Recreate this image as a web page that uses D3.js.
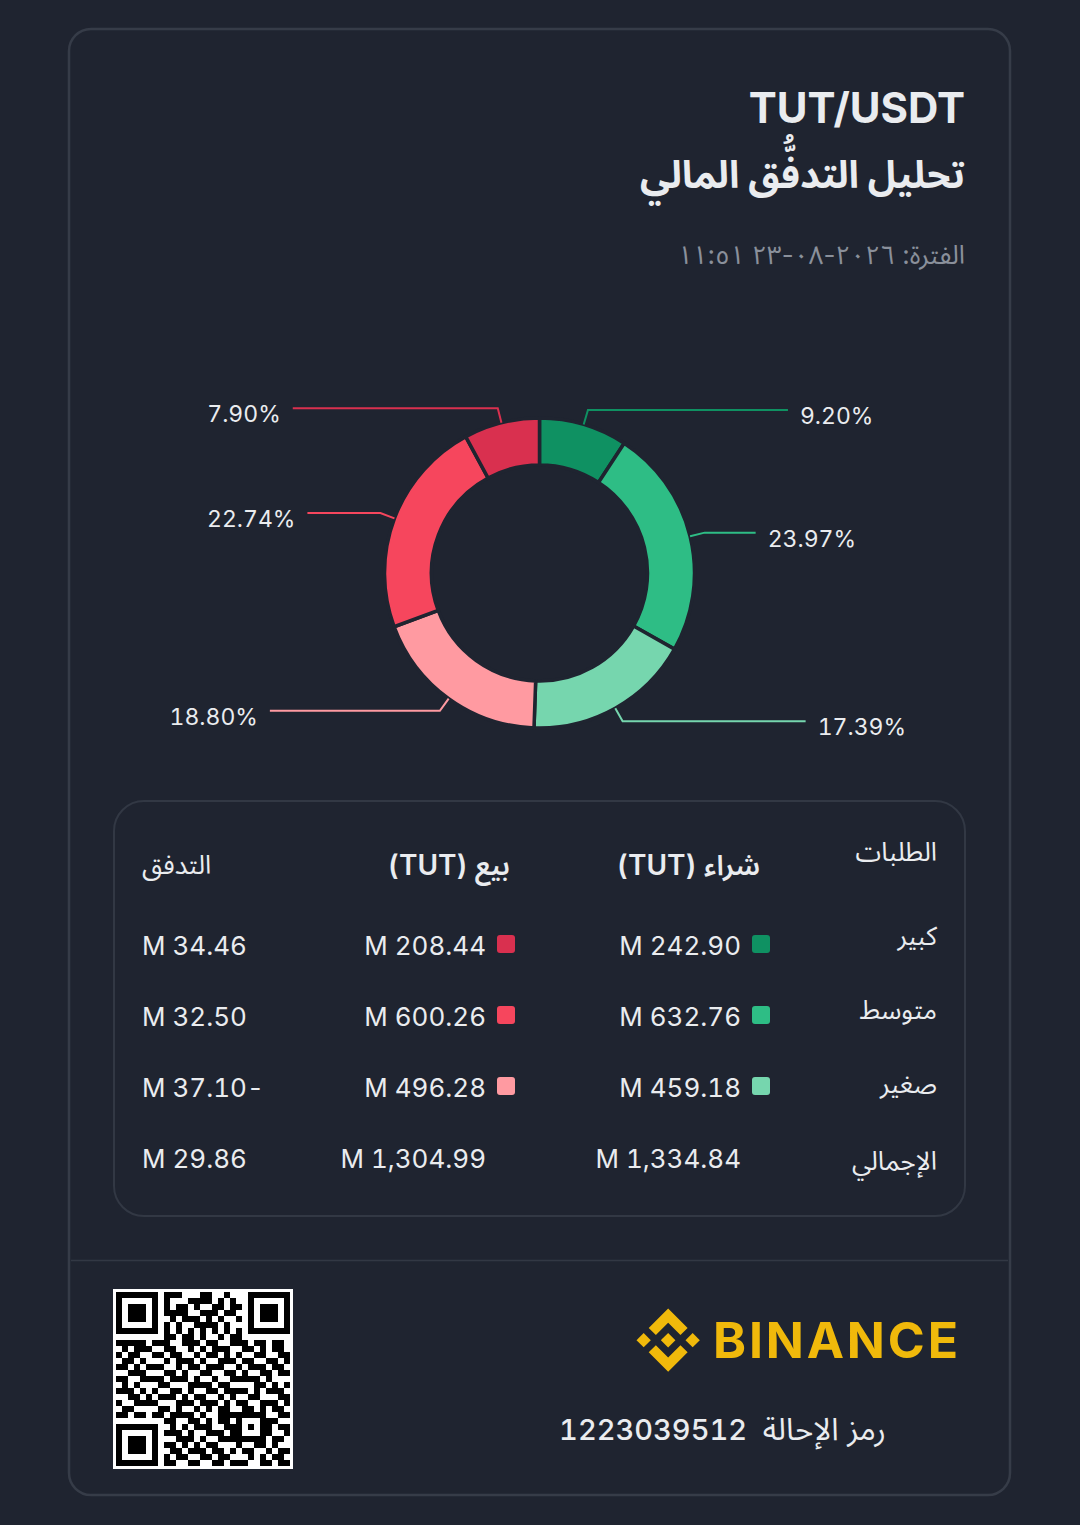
<!DOCTYPE html>
<html>
<head>
<meta charset="utf-8">
<script src="https://cdn.jsdelivr.net/npm/d3@7"></script>
<style>
  html, body { margin: 0; padding: 0; background: #1f2430; }
  svg { display: block; }
  .num { font-feature-settings: "tnum" 1; font-variant-numeric: tabular-nums; }
</style>
</head>
<body>
<div id="chart"></div>
<script>
// ---- data ----
var pairName = "TUT/USDT";
var titleText = "تحليل التدفُّق المالي";
var periodText = "الفترة: ٢٠٢٦-٠٨-٢٣ ١١:٥١";
var columnHeaders = ["الطلبات", "شراء (TUT)", "بيع (TUT)", "التدفق"];
var orderSizes = ["كبير", "متوسط", "صغير"];
var totalLabel = "الإجمالي";
var buyValues = [242.90, 632.76, 459.18];
var sellValues = [208.44, 600.26, 496.28];
var flowValues = [34.46, 32.50, -37.10];
var totalValues = [1334.84, 1304.99, 29.86];   // buy, sell, flow
var buyColors = ["#0f9162", "#2ebd85", "#76d6ae"];
var sellColors = ["#d9304f", "#f6465d", "#ff9aa1"];
var referralLabel = "رمز الإحالة";
var referralCode = "1223039512";
var qrRows = [
  "11111110111000110010001111111",
  "10000010100011110101001000001",
  "10111010101101001101101011101",
  "10111010111100111011001011101",
  "10111010010111010100101011101",
  "10000010101001111010001000001",
  "11111110101010101010101111111",
  "00000000110110100101100000000",
  "11111011100111011001110110110",
  "01011100110010101110011010110",
  "10110011011001011010100110011",
  "01101000101110100111011001101",
  "11010111001011011100101110110",
  "00111000110100110011010011011",
  "11001111011101001001111101000",
  "01010001100011110110000110101",
  "11101010011010011011110101110",
  "00110101110101100101001100011",
  "10011110001110111010110011101",
  "01100001101001010110011010110",
  "11011011011110100111111110011",
  "00000000110011010110100101100",
  "11111110010101110011011011011",
  "10000010111010011101001101001",
  "10111010001110100111111110110",
  "10111010110101011000100110100",
  "10111010011011101101011001011",
  "10000010101100110110001010110",
  "11111110110011001101110011011"
];

// ---- layout ----
var W = 1080, H = 1525;
var bg = "#1f2430", textColor = "#eaecef", mutedColor = "#8a909b";
var latin = "Inter, 'Noto Sans', 'DejaVu Sans', sans-serif";
var arabic = "Inter, 'Noto Sans Arabic', 'DejaVu Sans', sans-serif";

var svg = d3.select("#chart").append("svg")
    .attr("width", W)
    .attr("height", H);

svg.append("rect").attr("width", W).attr("height", H).attr("fill", bg);

// card
svg.append("rect")
    .attr("x", 69).attr("y", 29)
    .attr("width", 941).attr("height", 1466)
    .attr("rx", 22)
    .attr("fill", bg)
    .attr("stroke", "#363c48")
    .attr("stroke-width", 2.5);

// header
svg.append("text")
    .attr("x", 965).attr("y", 123)
    .attr("text-anchor", "end")
    .attr("fill", textColor)
    .style("font-family", latin)
    .style("font-size", "42px")
    .style("font-weight", "700")
    .text(pairName);

function rtlText(g, x, y, txt) {
  return g.append("text")
      .attr("x", x).attr("y", y)
      .attr("direction", "rtl")
      .attr("text-anchor", "start")
      .style("font-family", arabic)
      .text(txt);
}

rtlText(svg, 965, 188, titleText)
    .attr("fill", textColor)
    .style("font-size", "38px")
    .style("font-weight", "700");

rtlText(svg, 965, 264, periodText)
    .attr("fill", mutedColor)
    .style("font-size", "26px");

// ---- donut ----
var cx = 539.5, cy = 573, rOuter = 155, rInner = 108, rElbow = 170;
var leaderReach = [200, 51, 183, 170, 73, 205];

var slices = buyValues.map(function(v, i) { return { value: v, color: buyColors[i] }; })
  .concat(sellValues.map(function(v, i) { return { value: v, color: sellColors[i] }; }).reverse());
var total = d3.sum(slices, function(d) { return d.value; });

var pie = d3.pie().sort(null).value(function(d) { return d.value; });
var arcs = pie(slices);
var arc = d3.arc().innerRadius(rInner).outerRadius(rOuter);

var donut = svg.append("g").attr("transform", "translate(" + cx + "," + cy + ")");

donut.selectAll("path.slice")
  .data(arcs)
  .enter().append("path")
    .attr("class", "slice")
    .attr("d", arc)
    .attr("fill", function(d) { return d.data.color; })
    .attr("stroke", bg)
    .attr("stroke-width", 3.5)
    .attr("stroke-linejoin", "miter");

function polar(a, r) { return [Math.sin(a) * r, -Math.cos(a) * r]; }

arcs.forEach(function(d, i) {
  var a = (d.startAngle + d.endAngle) / 2;
  var right = Math.sin(a) > 0;
  var p1 = polar(a, rOuter), p2 = polar(a, rElbow);
  var p3 = [p2[0] + (right ? 1 : -1) * leaderReach[i], p2[1]];
  donut.append("path")
      .attr("d", d3.line()([p1, p2, p3]))
      .attr("fill", "none")
      .attr("stroke", d.data.color)
      .attr("stroke-width", 2);
  donut.append("text")
      .attr("class", "num")
      .attr("x", p3[0] + (right ? 12 : -12))
      .attr("y", p3[1] + 14)
      .attr("text-anchor", right ? "start" : "end")
      .attr("fill", textColor)
      .style("font-family", latin)
      .style("font-size", "23px")
      .text((d.data.value / total * 100).toFixed(2) + "%");
});

// ---- table ----
svg.append("rect")
    .attr("x", 114).attr("y", 801)
    .attr("width", 851).attr("height", 415)
    .attr("rx", 30)
    .attr("fill", "none")
    .attr("stroke", "#323844")
    .attr("stroke-width", 2);

var fmt = d3.formatLocale({ decimal: ".", thousands: ",", grouping: [3], currency: ["", ""], minus: "-" }).format(",.2f");
var col = { label: 937, buy: 741, sell: 486, flow: 142 };
var rowY = d3.scaleLinear().domain([0, 1]).range([955, 1026]);
var table = svg.append("g").attr("fill", textColor);

function cellText(x, y, txt, anchorLeft) {
  return rtlText(table, x, y, txt)
      .attr("class", "num")
      .attr("text-anchor", anchorLeft ? "end" : "start")
      .style("font-size", "26px");
}

cellText(col.label, 861, columnHeaders[0]);
cellText(col.buy + 19, 875, columnHeaders[1]).style("font-size", "28px").style("font-weight", "600");
cellText(col.sell + 24, 875, columnHeaders[2]).style("font-size", "28px").style("font-weight", "600");
cellText(col.flow, 874, columnHeaders[3], true);

orderSizes.forEach(function(name, i) {
  var y = rowY(i);
  cellText(col.label, y - 10 + i * 3, name);
  cellText(col.buy, y, fmt(buyValues[i]) + " M");
  cellText(col.sell, y, fmt(sellValues[i]) + " M");
  cellText(col.flow, y, fmt(flowValues[i]) + " M", true);
  table.append("rect")
      .attr("x", col.buy + 11).attr("y", y - 20)
      .attr("width", 18).attr("height", 18).attr("rx", 3)
      .attr("fill", buyColors[i]);
  table.append("rect")
      .attr("x", col.sell + 11).attr("y", y - 20)
      .attr("width", 18).attr("height", 18).attr("rx", 3)
      .attr("fill", sellColors[i]);
});

var yTot = rowY(orderSizes.length);
cellText(col.label, yTot + 2, totalLabel);
cellText(col.buy, yTot, fmt(totalValues[0]) + " M");
cellText(col.sell, yTot, fmt(totalValues[1]) + " M");
cellText(col.flow, yTot, fmt(totalValues[2]) + " M", true);

table.selectAll("text").style("font-family", arabic);

// ---- footer ----
svg.append("line")
    .attr("x1", 71).attr("x2", 1008)
    .attr("y1", 1260.5).attr("y2", 1260.5)
    .attr("stroke", "#323844")
    .attr("stroke-width", 1.5);

// QR code
var N = qrRows.length, m = 6, qx = 116, qy = 1292;
var grid = qrRows.map(function(r) { return r.split("").map(Number); });
function setBox(r0, c0, size, fn) {
  for (var r = 0; r < size; r++) for (var c = 0; c < size; c++) {
    var rr = r0 + r, cc = c0 + c;
    if (rr >= 0 && rr < N && cc >= 0 && cc < N) grid[rr][cc] = fn(r, c);
  }
}
function finderFn(r, c) {
  var k = Math.max(Math.abs(r - 4), Math.abs(c - 4));
  return (k === 4 || k === 2) ? 0 : 1;
}
setBox(-1, -1, 9, finderFn);
setBox(-1, N - 8, 9, finderFn);
setBox(N - 8, -1, 9, finderFn);
for (var t = 8; t < N - 8; t++) { grid[6][t] = (t + 1) % 2; grid[t][6] = (t + 1) % 2; }
setBox(N - 9, N - 9, 5, function(r, c) {
  var k = Math.max(Math.abs(r - 2), Math.abs(c - 2));
  return k === 1 ? 0 : 1;
});

var cells = [];
grid.forEach(function(row, r) { row.forEach(function(v, c) { if (v) cells.push({ r: r, c: c }); }); });

svg.append("rect")
    .attr("x", 113).attr("y", 1289)
    .attr("width", 180).attr("height", 180)
    .attr("fill", "#ffffff");

var qrScale = d3.scaleLinear().domain([0, N]).range([0, N * m]);
svg.append("g")
    .attr("transform", "translate(" + qx + "," + qy + ")")
    .selectAll("rect")
    .data(cells)
    .enter().append("rect")
      .attr("x", function(d) { return qrScale(d.c); })
      .attr("y", function(d) { return qrScale(d.r); })
      .attr("width", m + 0.3)
      .attr("height", m + 0.3)
      .attr("fill", "#000000")
      .attr("shape-rendering", "crispEdges");

// Binance logo
var logoPaths = [
  "M38.73 53.2l24.59-24.58 24.6 24.6 14.3-14.31L63.32 0 24.42 38.9l14.31 14.3z",
  "M0 63.31l14.3-14.31 14.31 14.31-14.31 14.3z",
  "M38.73 73.41l24.59 24.59 24.6-24.6 14.31 14.29-38.9 38.91-38.91-38.88-.02-.02 14.33-14.29z",
  "M98 63.31l14.3-14.31 14.31 14.3-14.31 14.32z",
  "M77.83 63.3L63.32 48.78 52.59 59.51l-1.24 1.23-2.54 2.54-.02.02.02.03 14.51 14.5 14.51-14.52.01-.01-.01-.01z"
];
var logo = svg.append("g")
    .attr("transform", "translate(636.5,1308.5) scale(0.5)")
    .attr("fill", "#f0b90b");
logoPaths.forEach(function(p) { logo.append("path").attr("d", p); });

svg.append("text")
    .attr("x", 713).attr("y", 1358)
    .attr("textLength", 245)
    .attr("lengthAdjust", "spacing")
    .attr("fill", "#f0b90b")
    .style("font-family", latin)
    .style("font-size", "50px")
    .style("font-weight", "700")
    .text("BINANCE");

svg.append("text")
    .attr("class", "num")
    .attr("x", 747).attr("y", 1440)
    .attr("text-anchor", "end")
    .attr("fill", textColor)
    .style("font-family", latin)
    .style("font-size", "29px")
    .style("font-weight", "500")
    .text(referralCode);

rtlText(svg, 886, 1440, referralLabel)
    .attr("fill", textColor)
    .style("font-size", "31px");
</script>
</body>
</html>
